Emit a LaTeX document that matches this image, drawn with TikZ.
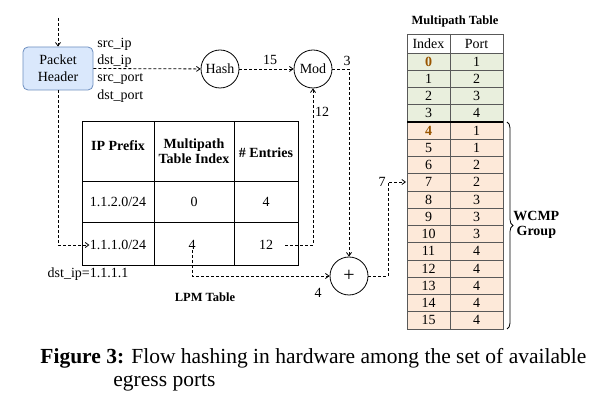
\documentclass[tikz,border=0pt]{standalone}
\usepackage{fontspec}
\setmainfont{Liberation Serif}
\usetikzlibrary{arrows.meta,decorations.pathreplacing}
\definecolor{pblue}{HTML}{DAE8FC}
\definecolor{pbord}{HTML}{6C8EBF}
\definecolor{mgreen}{HTML}{E9EFDD}
\definecolor{morange}{HTML}{FDE9D9}
\definecolor{brn}{HTML}{995500}
\begin{document}
\begin{tikzpicture}[x=1pt,y=-1pt,line width=0.8pt,
  dsh/.style={densely dashed,-{Straight Barb[length=3.5pt,width=5pt]}},
  circ/.style={draw,circle,minimum size=38pt,inner sep=0pt,font=\fontsize{14}{14}\selectfont},
  t/.style={font=\fontsize{14}{15}\selectfont,inner sep=0pt},
  tb/.style={font=\fontsize{14}{15}\selectfont\bfseries,inner sep=0pt,align=center},
  mt/.style={font=\fontsize{14}{14}\selectfont,inner sep=0pt}]
\useasboundingbox (0,0) rectangle (600,403);
% packet header
\node[draw=pbord,fill=pblue,rounded corners=5pt,minimum width=70pt,minimum height=43pt,align=center,font=\fontsize{14}{17}\selectfont] (ph) at (58,68.5) {Packet\\Header};
\coordinate (top) at (58,18);
\draw[dsh] (top) -- (ph.north);
\node[t,anchor=west] (l1) at (97,44) {src\_ip};
\node[t,anchor=west] (l2) at (97,61) {dst\_ip};
\node[t,anchor=west] (l3) at (97,79) {src\_port};
\node[t,anchor=west] (l4) at (97,96) {dst\_port};
\node[circ] (hash) at (220,69) {Hash};
\node[circ] (mod) at (313,69) {Mod};
\node[circ,font=\fontsize{20}{20}\selectfont] (plus) at (349,276) {+};
\draw[dsh] (ph.east) -- (hash);
\draw[dsh] (hash) -- (mod);
\node[t] (n15) at (270,60) {15};
\draw[dsh] (mod.east) -| (plus.north);
\node[t] (n3) at (347,61) {3};
% LPM table
\draw (82,121) rectangle (298,265);
\draw (154,121) -- (154,265) (234,121) -- (234,265) (82,181) -- (298,181) (82,222) -- (298,222);
\node[tb] (h1) at (118,146) {IP Prefix};
\node[tb] (h2) at (194,151) {Multipath\\Table Index};
\node[tb] (h3) at (266,153) {\# Entries};
\node[t] (a1) at (118,202) {1.1.2.0/24};
\node[t] (a2) at (194,202) {0};
\node[t] (a3) at (266,202) {4};
\node[t] (b1) at (118,245) {1.1.1.0/24};
\node[t] (b2) at (192,245) {4};
\node[t] (b3) at (266,245) {12};
\draw[dsh] (ph.south) |- (b1.west);
\coordinate (e12) at (285,245);
\draw[dsh] (e12) -| (mod.south);
\node[t] (n12) at (322,112) {12};
\draw[dsh] (b2.south) |- (plus.west);
\node[t] (n4) at (318,293) {4};
\node[t] (dip) at (88,274) {dst\_ip=1.1.1.1};
\node[font=\fontsize{12.5}{13}\selectfont\bfseries,inner sep=0pt] (lpm) at (205,297) {LPM Table};
% multipath table
\node[font=\fontsize{12.5}{13}\selectfont\bfseries,inner sep=0pt] (mtt) at (455,21) {Multipath Table};
\fill[mgreen] (407,53) rectangle (503,122);
\fill[morange] (407,122) rectangle (503,329);
\draw[gray!70!black] (407,34) rectangle (503,329);
\draw[gray!70!black] (450,34) -- (450,329) (407,53) -- (503,53);
\node[mt] (ih) at (428.5,44) {Index};
\node[mt] (ip) at (476.5,44) {Port};
\foreach \i/\p in {0/1,1/2,2/3,3/4,4/1,5/1,6/2,7/2,8/3,9/3,10/3,11/4,12/4,13/4,14/4,15/4}{
  \pgfmathsetmacro{\yc}{53+17.25*\i+8.6}
  \ifnum\i=0 \node[mt,text=brn,font=\fontsize{14}{14}\selectfont\bfseries] (i\i) at (428.5,\yc) {\i};
  \else\ifnum\i=4 \node[mt,text=brn,font=\fontsize{14}{14}\selectfont\bfseries] (i\i) at (428.5,\yc) {\i};
  \else \node[mt] (i\i) at (428.5,\yc) {\i};\fi\fi
  \node[mt] (p\i) at (476.5,\yc) {\p};
  \ifnum\i>0 \draw[gray!70!black] (407,53+17.25*\i) -- (503,53+17.25*\i);\fi
}
\draw[line width=1.6pt] (407,122) -- (503,122);
\coordinate (r7) at (406,182);
\draw[dsh] (plus.east) -| (388,182) -- (r7);
\node[t] (n7) at (382,182) {7};
\draw[decorate,decoration={brace,amplitude=6pt}] (507,122) -- (507,329);
\node[tb,anchor=west] (wcmp) at (513,225) {WCMP\\Group};
% caption
\node[anchor=west,inner sep=0pt,font=\fontsize{21.5}{24}\selectfont] (cap1) at (40,358) {\textbf{Figure 3:} Flow hashing in hardware among the set of available};
\node[anchor=west,inner sep=0pt,font=\fontsize{21.5}{24}\selectfont] (cap2) at (113,383) {egress ports};
\end{tikzpicture}
\end{document}
